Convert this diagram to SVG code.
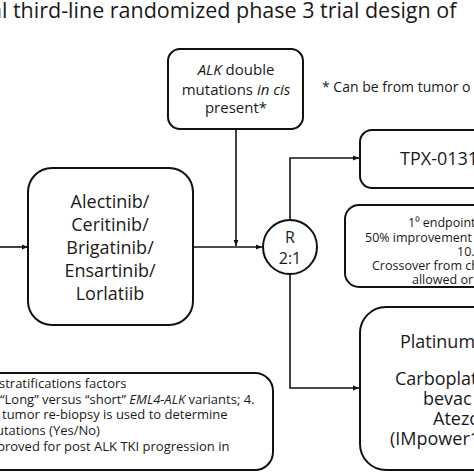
<svg xmlns="http://www.w3.org/2000/svg" width="474" height="474" viewBox="0 0 474 474">
<defs>
<style>
text{font-family:"Open Sans","Noto Sans","DejaVu Sans",sans-serif;fill:#1a1a1a}
.box{fill:#fff;stroke:#111;stroke-width:2}
.ln{fill:none;stroke:#111;stroke-width:1.6}
.big{font-size:18px}
.mid{font-size:15px}
.sm{font-size:13px}
.ep{font-size:12.5px}
.c{text-anchor:middle}
</style>
<marker id="ah" viewBox="0 0 10 10" refX="10" refY="5" markerWidth="6" markerHeight="6" orient="auto" markerUnits="userSpaceOnUse">
<path d="M0,1 L10,5 L0,9 z" fill="#111"/>
</marker>
</defs>
<rect width="474" height="474" fill="#fff"/>
<text x="-10" y="18" style="font-size:21.5px">al third-line randomized phase 3 trial design of</text>

<g id="connectors">
<line class="ln" x1="0" y1="247" x2="28" y2="247" marker-end="url(#ah)"/>
<line class="ln" x1="193" y1="247" x2="262" y2="247" marker-end="url(#ah)"/>
<line class="ln" x1="236" y1="129" x2="236" y2="246" marker-end="url(#ah)"/>
<polyline class="ln" points="290,220 290,158 359,158" marker-end="url(#ah)"/>
<polyline class="ln" points="290,274 290,388 359,388" marker-end="url(#ah)"/>
</g>

<g id="node-alk">
<rect class="box" x="168" y="49" width="135" height="80" rx="12"/>
<text class="mid c" x="236" y="75"><tspan font-style="italic">ALK</tspan> double</text>
<text class="mid c" x="236" y="95">mutations <tspan font-style="italic">in cis</tspan></text>
<text class="mid c" x="236" y="113">present*</text>
</g>

<text x="322" y="92" style="font-size:14px">* Can be from tumor o</text>

<g id="node-tki">
<rect class="box" x="28" y="168" width="165" height="157" rx="24"/>
<text class="big c" x="110" y="208">Alectinib/</text>
<text class="big c" x="110" y="231">Ceritinib/</text>
<text class="big c" x="110" y="254">Brigatinib/</text>
<text class="big c" x="110" y="277">Ensartinib/</text>
<text class="big c" x="110" y="300">Lorlatiib</text>
</g>

<g id="node-r">
<circle class="box" cx="290" cy="247" r="27"/>
<text class="c" x="290" y="243" style="font-size:16px">R</text>
<text class="c" x="290" y="264" style="font-size:16px">2:1</text>
</g>

<g id="node-tpx">
<rect class="box" x="360" y="130" width="140" height="58" rx="12"/>
<text class="big" x="400" y="165">TPX-0131</text>
</g>

<g id="node-endpoint">
<rect class="box" x="345" y="205" width="160" height="82" rx="14"/>
<text class="ep" x="408" y="227">1⁰ endpoint</text>
<text class="ep" x="365" y="242">50% improvement</text>
<text class="ep" x="457" y="256">10.</text>
<text class="ep" x="372" y="270">Crossover from ch</text>
<text class="ep" x="412" y="284">allowed or</text>
</g>

<g id="node-platinum">
<rect class="box" x="360" y="307" width="150" height="163" rx="26"/>
<text class="big" x="400" y="348">Platinum</text>
<text class="big" x="395" y="385">Carboplat</text>
<text class="big" x="423" y="405">bevac</text>
<text class="big" x="433" y="425">Atezo</text>
<text class="big" x="390" y="445">(IMpower1</text>
</g>

<g id="node-strat">
<rect class="box" x="-30" y="373" width="303" height="97" rx="18"/>
<text class="sm" x="-1" y="388">stratifications factors</text>
<text class="sm" x="0" y="404">“Long” versus “short” <tspan font-style="italic">EML4-ALK</tspan> variants; 4.</text>
<text class="sm" x="2" y="419">tumor re-biopsy is used to determine</text>
<text class="sm" x="-4" y="435">utations (Yes/No)</text>
<text class="sm" x="-3" y="451">proved for post ALK TKI progression in</text>
</g>
</svg>
